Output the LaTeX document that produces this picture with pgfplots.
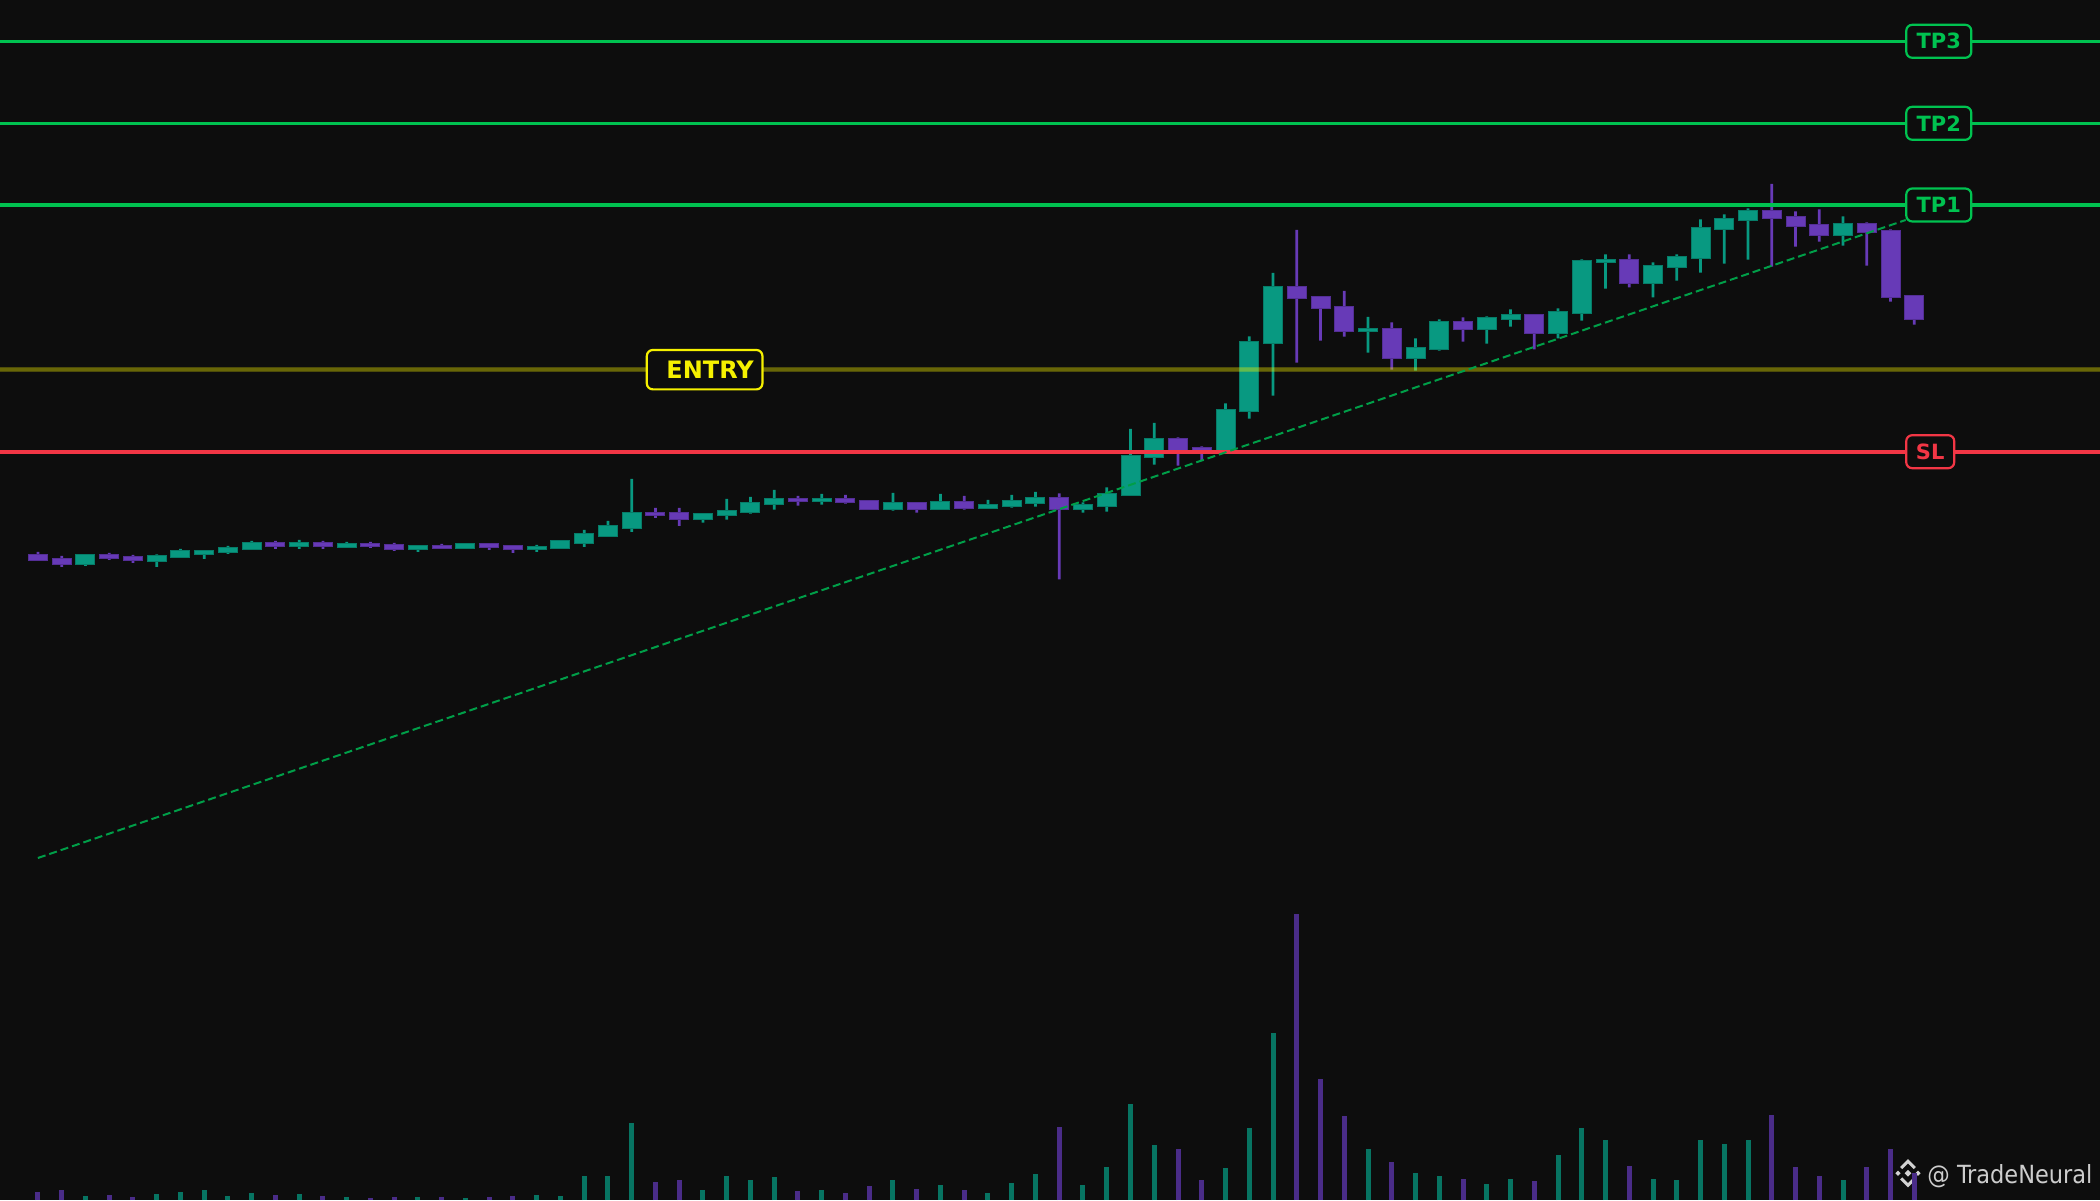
\documentclass[border=0pt]{standalone}
\usepackage{pgfplots}
\pgfplotsset{compat=1.18}
\usepackage{pgfplotstable}
\usepackage{fontspec}
\newfontfamily\lblfont{DejaVu Sans}
\newfontfamily\wmfont{DejaVu Sans Condensed}

\definecolor{bg}{RGB}{13,13,13}
\definecolor{cgreen}{RGB}{8,153,129}
\definecolor{cgreendk}{RGB}{6,124,104}
\definecolor{cpurple}{RGB}{103,58,183}
\definecolor{cpurpledk}{RGB}{84,46,150}
\definecolor{vgreen}{RGB}{7,116,98}
\definecolor{vpurple}{RGB}{74,44,136}
\definecolor{tpgreen}{RGB}{0,194,80}
\definecolor{slred}{RGB}{242,54,69}
\definecolor{entryyellow}{RGB}{245,240,0}
\definecolor{trend}{RGB}{0,158,72}
\definecolor{wmgray}{RGB}{205,205,205}

% candles: index, open, high, low, close, volume
\pgfplotstableread{
i o h l c v
2 63.53 64.57 63.40 64.57 4
5 63.83 64.57 63.30 64.47 6
6 64.23 65.10 64.23 64.90 8
7 64.57 64.97 64.10 64.97 10
8 64.73 65.40 64.60 65.27 4
9 65.03 65.90 65.03 65.77 7
11 65.33 66.00 65.10 65.77 6
13 65.23 65.80 65.23 65.67 3
16 65.03 65.47 64.80 65.47 3
18 65.13 65.67 65.13 65.67 2
21 65.03 65.50 64.80 65.37 5
22 65.13 65.90 65.13 65.90 4
23 65.63 67.00 65.30 66.60 24
24 66.33 67.90 66.33 67.40 24
25 67.13 72.10 66.80 68.70 77
28 68.07 68.67 67.73 68.67 10
29 68.43 70.10 68.03 68.97 24
30 68.77 70.30 68.63 69.77 20
31 69.57 71.00 69.03 70.17 23
33 69.83 70.60 69.53 70.17 10
36 69.07 70.70 68.93 69.77 20
38 69.07 70.60 69.07 69.87 15
40 69.17 70.00 69.17 69.57 7
41 69.37 70.50 69.23 69.97 17
42 69.67 70.80 69.33 70.27 26
44 69.07 69.77 68.73 69.57 15
45 69.37 71.27 68.83 70.67 33
46 70.47 77.10 70.47 74.47 96
47 74.27 77.70 73.53 76.17 55
50 74.97 79.67 74.97 79.07 32
51 78.87 86.37 78.13 85.87 72
52 85.63 92.70 80.43 91.37 167
56 86.87 88.30 84.73 87.17 51
58 84.17 86.17 82.93 85.27 27
59 85.07 88.07 84.93 87.87 24
61 87.07 88.37 85.63 88.27 16
62 88.07 89.07 87.33 88.57 21
64 86.67 89.17 86.15 88.87 45
65 88.67 94.07 87.93 93.97 72
66 93.77 94.57 91.13 94.07 60
68 91.67 93.77 90.27 93.47 21
69 93.27 94.57 91.93 94.37 20
70 94.17 98.07 92.73 97.27 60
71 97.07 98.57 93.63 98.17 56
72 97.97 99.17 94.03 98.97 60
76 96.47 98.37 95.43 97.67 20
}\greentab

\pgfplotstableread{
i o h l c v
0 64.57 64.80 63.93 63.93 8
1 64.17 64.40 63.30 63.53 10
3 64.57 64.70 64.00 64.13 5
4 64.37 64.50 63.70 63.93 3
10 65.77 65.90 65.10 65.33 5
12 65.77 65.90 65.10 65.33 4
14 65.67 65.80 65.20 65.33 2
15 65.57 65.70 64.90 65.03 3
17 65.47 65.60 65.10 65.13 3
19 65.67 65.67 65.00 65.23 3
20 65.47 65.47 64.70 65.03 4
26 68.70 69.20 68.20 68.43 18
27 68.70 69.20 67.40 68.03 20
32 70.17 70.40 69.43 69.83 9
34 70.17 70.50 69.63 69.73 7
35 69.97 69.97 69.07 69.07 14
37 69.77 69.77 68.73 69.07 11
39 69.87 70.40 69.03 69.17 10
43 70.27 70.67 62.05 69.07 73
48 76.17 76.27 73.43 74.97 51
49 75.27 75.37 73.97 74.97 20
53 91.37 97.00 83.73 90.17 286
54 90.37 90.37 85.93 89.17 121
55 89.37 90.90 86.33 86.87 84
57 87.17 87.77 83.03 84.17 38
60 87.87 88.27 85.83 87.07 21
63 88.57 88.57 85.07 86.67 19
67 94.07 94.57 91.27 91.67 34
73 98.97 101.60 93.33 98.17 85
74 98.37 98.87 95.33 97.37 33
75 97.57 99.07 95.83 96.47 24
77 97.67 97.77 93.43 96.77 33
78 96.97 97.07 89.83 90.27 51
79 90.47 90.47 87.53 88.07 27
}\purpletab

\pgfplotsset{
  base/.style={scale only axis, width=1050pt, height=600pt,
    xmin=-1.596, xmax=86.82, ymin=0, ymax=120,
    hide axis, at={(0,0)}, anchor=south west},
}
\tikzset{
  tpbox/.style={draw=tpgreen, line width=1.1pt, rounded corners=3pt, fill=bg,
    minimum width=32.5pt, minimum height=16.5pt, inner sep=0pt, text=tpgreen,
    font=\lblfont\bfseries\fontsize{10.5}{12}\selectfont},
}

\begin{document}
\begin{tikzpicture}
\fill[bg] (0,0) rectangle (1050pt,600pt);

% watermark
\begin{scope}[shift={(954pt,13.4pt)}, wmgray!90!white]
  \fill (0,1.7pt) -- (1.7pt,0) -- (0,-1.7pt) -- (-1.7pt,0) -- cycle;
  \fill (-5pt,1.3pt) -- (-3.7pt,0) -- (-5pt,-1.3pt) -- (-6.3pt,0) -- cycle;
  \fill (5pt,1.3pt) -- (6.3pt,0) -- (5pt,-1.3pt) -- (3.7pt,0) -- cycle;
  \draw[line width=1.5pt] (-3.4pt,2.6pt) -- (0,6pt) -- (3.4pt,2.6pt);
  \draw[line width=1.5pt] (-3.4pt,-2.6pt) -- (0,-6pt) -- (3.4pt,-2.6pt);
\end{scope}
\node[anchor=base west, inner sep=0pt, text=wmgray,
  font=\wmfont\fontsize{12.5}{14}\selectfont] at (963.5pt,8.4pt) {@ TradeNeural};

% volume
\begin{axis}[base, ymax=1200]
\addplot[ycomb, draw=vgreen, line width=2.5pt, mark=none] table[x=i,y=v]{\greentab};
\addplot[ycomb, draw=vpurple, line width=2.5pt, mark=none] table[x=i,y=v]{\purpletab};
\end{axis}

% wicks
\begin{axis}[base, ybar stacked, bar width=0.114]
\addplot[draw=none, fill=none] table[x=i,y=l]{\greentab};
\addplot[draw=none, fill=cgreen] table[x=i,y expr=\thisrow{h}-\thisrow{l}]{\greentab};
\end{axis}
\begin{axis}[base, ybar stacked, bar width=0.114]
\addplot[draw=none, fill=none] table[x=i,y=l]{\purpletab};
\addplot[draw=none, fill=cpurple] table[x=i,y expr=\thisrow{h}-\thisrow{l}]{\purpletab};
\end{axis}

% bodies
\begin{axis}[base, ybar stacked, bar width=0.80]
\addplot[draw=none, fill=none] table[x=i,y=o]{\greentab};
\addplot[draw=cgreendk, line width=0.5pt, fill=cgreen] table[x=i,y expr=\thisrow{c}-\thisrow{o}]{\greentab};
\end{axis}
\begin{axis}[base, ybar stacked, bar width=0.80]
\addplot[draw=none, fill=none] table[x=i,y=c]{\purpletab};
\addplot[draw=cpurpledk, line width=0.5pt, fill=cpurple] table[x=i,y expr=\thisrow{o}-\thisrow{c}]{\purpletab};
\end{axis}

% levels
\begin{axis}[base]
\addplot[tpgreen, line width=1.7pt, mark=none] coordinates {(-1.596,115.87) (86.82,115.87)};
\addplot[tpgreen, line width=1.7pt, mark=none] coordinates {(-1.596,107.67) (86.82,107.67)};
\addplot[tpgreen, line width=1.7pt, mark=none] coordinates {(-1.596,99.5) (86.82,99.5)};
\addplot[entryyellow, line width=2.8pt, opacity=0.28, mark=none] coordinates {(-1.596,83.03) (86.82,83.03)};
\addplot[entryyellow, line width=1.4pt, opacity=0.16, mark=none] coordinates {(-1.596,83.03) (86.82,83.03)};
\addplot[slred, line width=2pt, mark=none] coordinates {(-1.596,74.83) (86.82,74.83)};
\addplot[trend, line width=1pt, dash pattern=on 4pt off 2pt, mark=none] coordinates {(0,34.2) (78.64,98.0)};

\node[tpbox] at (axis cs:80.03,115.87) {TP3};
\node[tpbox] at (axis cs:80.03,107.67) {TP2};
\node[tpbox] at (axis cs:80.03,99.5) {TP1};
\node[tpbox, draw=slred, text=slred, minimum width=24pt] at (axis cs:79.67,74.83) {SL};
\node[draw=entryyellow, line width=1.1pt, rounded corners=3pt, fill=bg,
  minimum width=57.8pt, minimum height=19.7pt, inner sep=0pt] at (axis cs:28.07,83.03) {};
\node[inner sep=0pt, text=entryyellow, font=\lblfont\bfseries\fontsize{12}{14}\selectfont,
  xshift=2.75pt] at (axis cs:28.07,83.03) {ENTRY};
\end{axis}

\pgfresetboundingbox
\path[use as bounding box] (0,0) rectangle (1050pt,600pt);
\end{tikzpicture}
\end{document}
